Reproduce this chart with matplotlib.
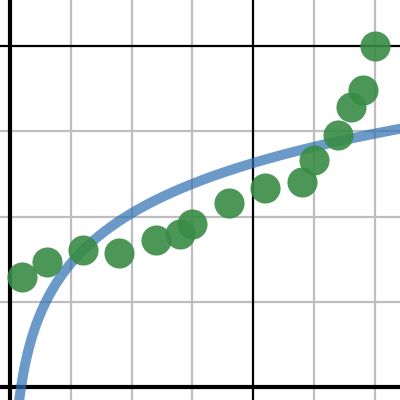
import numpy as np
import matplotlib
matplotlib.use("Agg")
import matplotlib.pyplot as plt

# scatter data
x_pts = [0.2, 0.6, 1.2, 1.8, 2.4, 2.8, 3.0, 3.6, 4.2, 4.8, 5.0, 5.4, 5.6, 5.8, 6.0]
y_pts = [1.29, 1.47, 1.61, 1.57, 1.72, 1.80, 1.91, 2.16, 2.34, 2.40, 2.66, 2.96, 3.28, 3.48, 4.00]

# log curve y = a + b*ln(x), coefficients
fit_a = 1.45
fit_b = 0.85

minor_x = [1, 2, 3, 5, 6]
minor_y = [1, 2, 3]
major_x = [4]
major_y = [4]

fig = plt.figure(figsize=(4, 4), dpi=100)
ax = fig.add_axes([0, 0, 1, 1])
ax.set_xlim(-0.1644, 6.411)
ax.set_ylim(-0.1525, 4.540)
ax.axis("off")

# grid
for v in minor_x:
    ax.axvline(v, color="#bebebe", lw=1.6, zorder=1)
for v in minor_y:
    ax.axhline(v, color="#bebebe", lw=1.6, zorder=1)
for v in major_x:
    ax.axvline(v, color="black", lw=1.6, zorder=1.5)
for v in major_y:
    ax.axhline(v, color="black", lw=1.6, zorder=1.5)
ax.axvline(0, color="black", lw=3.0, zorder=1.5)
ax.axhline(0, color="black", lw=3.0, zorder=1.5)

# fitted curve
xs = np.linspace(0.01, 6.6, 600)
ax.plot(xs, fit_a + fit_b * np.log(xs), color="#2d70b3", alpha=0.7, lw=7.2,
        solid_capstyle="butt", zorder=2)

# points
ax.scatter(x_pts, y_pts, s=470, color="#388c46", alpha=0.9, linewidths=0, zorder=3)

fig.savefig("out.png", dpi=100)
